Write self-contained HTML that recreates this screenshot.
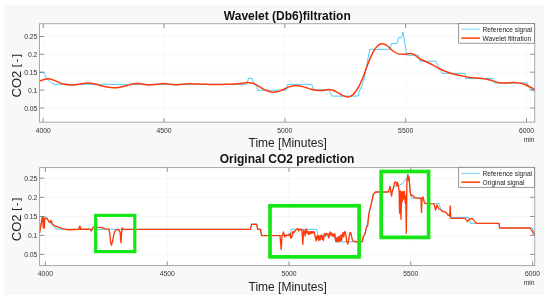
<!DOCTYPE html>
<html lang="en"><head><meta charset="utf-8"><title>CO2 wavelet filtration</title>
<style>html,body{margin:0;padding:0;background:#fff}body{width:550px;height:301px;overflow:hidden}</style></head>
<body>
<svg width="550" height="301" viewBox="0 0 550 301" font-family="Liberation Sans, Arial, sans-serif" style="display:block">
<rect x="0" y="0" width="550" height="301" fill="#ffffff"/>
<rect x="4.4" y="5" width="539.6" height="290" fill="#f8f8f8"/>
<rect x="39.6" y="23.8" width="495.20" height="98.30" fill="#ffffff"/>
<path d="M43.20,23.8V122.1M164.03,23.8V122.1M284.85,23.8V122.1M405.68,23.8V122.1M526.50,23.8V122.1M39.6,36.5H534.8M39.6,54.3H534.8M39.6,72.2H534.8M39.6,90.1H534.8M39.6,108.0H534.8" stroke="#f1f1f1" stroke-width="0.6" fill="none"/>
<clipPath id="c1"><rect x="39.6" y="23.8" width="495.20" height="98.30"/></clipPath>
<g clip-path="url(#c1)"><path d="M39.60,72.40L44.10,72.40L46.30,78.30L53.30,84.30L247.00,84.30L248.40,78.30L252.00,78.30L253.20,81.80L256.90,86.60L257.80,90.30L286.20,90.20L287.70,84.30L311.80,84.30L313.70,89.80L329.10,89.80L331.90,96.10L358.00,96.10L359.30,91.60L363.90,80.00L369.80,49.30L390.30,49.30L391.20,43.60L397.00,43.60L398.50,37.80L401.20,37.80L403.10,32.30L406.70,55.20L418.60,55.20L419.90,61.20L436.00,61.20L438.00,66.00L441.00,70.00L442.00,73.40L465.00,73.40L465.80,78.60L493.00,78.60L494.40,83.00L527.00,83.00L530.00,89.40L534.80,90.50" fill="none" stroke="#3cc4f4" stroke-width="0.9" stroke-linejoin="round"/>
<path d="M39.60,81.00C40.33,80.75 42.48,79.87 44.00,79.50C45.52,79.13 46.87,78.62 48.70,78.80C50.53,78.98 52.72,79.77 55.00,80.60C57.28,81.43 59.63,83.07 62.40,83.80C65.17,84.53 68.67,84.97 71.60,85.00C74.53,85.03 77.27,84.33 80.00,84.00C82.73,83.67 85.50,83.00 88.00,83.00C90.50,83.00 92.87,83.57 95.00,84.00C97.13,84.43 98.80,85.10 100.80,85.60C102.80,86.10 104.87,86.63 107.00,87.00C109.13,87.37 111.43,87.77 113.60,87.80C115.77,87.83 117.77,87.58 120.00,87.20C122.23,86.82 124.83,86.03 127.00,85.50C129.17,84.97 131.28,84.35 133.00,84.00C134.72,83.65 135.63,83.37 137.30,83.40C138.97,83.43 140.88,83.93 143.00,84.20C145.12,84.47 147.67,85.00 150.00,85.00C152.33,85.00 154.70,84.43 157.00,84.20C159.30,83.97 161.63,83.60 163.80,83.60C165.97,83.60 168.02,84.02 170.00,84.20C171.98,84.38 173.53,84.70 175.70,84.70C177.87,84.70 180.57,84.35 183.00,84.20C185.43,84.05 187.80,83.82 190.30,83.80C192.80,83.78 195.25,84.02 198.00,84.10C200.75,84.18 204.13,84.23 206.80,84.30C209.47,84.37 211.57,84.47 214.00,84.50C216.43,84.53 219.07,84.53 221.40,84.50C223.73,84.47 225.57,84.38 228.00,84.30C230.43,84.22 233.67,84.18 236.00,84.00C238.33,83.82 240.17,83.43 242.00,83.20C243.83,82.97 245.27,82.58 247.00,82.60C248.73,82.62 250.73,82.85 252.40,83.30C254.07,83.75 255.47,84.50 257.00,85.30C258.53,86.10 259.93,87.18 261.60,88.10C263.27,89.02 265.18,90.12 267.00,90.80C268.82,91.48 270.83,92.03 272.50,92.20C274.17,92.37 275.47,92.13 277.00,91.80C278.53,91.47 280.28,90.75 281.70,90.20C283.12,89.65 284.28,89.05 285.50,88.50C286.72,87.95 287.83,87.32 289.00,86.90C290.17,86.48 291.28,86.22 292.50,86.00C293.72,85.78 294.88,85.57 296.30,85.60C297.72,85.63 299.48,85.90 301.00,86.20C302.52,86.50 303.73,86.90 305.40,87.40C307.07,87.90 309.17,88.72 311.00,89.20C312.83,89.68 314.73,90.07 316.40,90.30C318.07,90.53 319.57,90.62 321.00,90.60C322.43,90.58 323.65,90.40 325.00,90.20C326.35,90.00 327.77,89.38 329.10,89.40C330.43,89.42 331.47,89.72 333.00,90.30C334.53,90.88 336.63,92.02 338.30,92.90C339.97,93.78 341.48,94.93 343.00,95.60C344.52,96.27 346.07,96.80 347.40,96.90C348.73,97.00 349.93,96.72 351.00,96.20C352.07,95.68 352.57,95.27 353.80,93.80C355.03,92.33 356.87,90.15 358.40,87.40C359.93,84.65 361.50,81.00 363.00,77.30C364.50,73.60 365.75,69.35 367.40,65.20C369.05,61.05 371.22,55.60 372.90,52.40C374.58,49.20 375.92,47.43 377.50,46.00C379.08,44.57 380.73,43.80 382.40,43.80C384.07,43.80 385.73,44.80 387.50,46.00C389.27,47.20 391.17,49.68 393.00,51.00C394.83,52.32 396.67,53.35 398.50,53.90C400.33,54.45 402.02,54.37 404.00,54.30C405.98,54.23 408.57,53.35 410.40,53.50C412.23,53.65 413.33,54.25 415.00,55.20C416.67,56.15 418.27,57.98 420.40,59.20C422.53,60.42 425.53,61.43 427.80,62.50C430.07,63.57 431.97,64.52 434.00,65.60C436.03,66.68 437.33,67.77 440.00,69.00C442.67,70.23 446.67,71.93 450.00,73.00C453.33,74.07 456.67,74.67 460.00,75.40C463.33,76.13 466.33,76.90 470.00,77.40C473.67,77.90 478.67,77.97 482.00,78.40C485.33,78.83 487.33,79.33 490.00,80.00C492.67,80.67 495.33,81.90 498.00,82.40C500.67,82.90 503.33,83.00 506.00,83.00C508.67,83.00 511.33,82.30 514.00,82.40C516.67,82.50 519.67,83.00 522.00,83.60C524.33,84.20 525.87,85.03 528.00,86.00C530.13,86.97 533.67,88.83 534.80,89.40" fill="none" stroke="#ff3a0a" stroke-width="1.5" stroke-linejoin="round" stroke-linecap="round"/></g>
<path d="M43.20,23.8v4.2M43.20,122.1v-4.2M164.03,23.8v4.2M164.03,122.1v-4.2M284.85,23.8v4.2M284.85,122.1v-4.2M405.68,23.8v4.2M405.68,122.1v-4.2M526.50,23.8v4.2M526.50,122.1v-4.2M39.6,36.5h4.6M534.8,36.5h-4.6M39.6,54.3h4.6M534.8,54.3h-4.6M39.6,72.2h4.6M534.8,72.2h-4.6M39.6,90.1h4.6M534.8,90.1h-4.6M39.6,108.0h4.6M534.8,108.0h-4.6" stroke="#5a5a5a" stroke-width="0.65" fill="none"/>
<rect x="39.6" y="23.8" width="495.20" height="98.30" fill="none" stroke="#858585" stroke-width="0.7"/>
<text x="43.20" y="132.6" font-size="6.8" fill="#333" text-anchor="middle">4000</text>
<text x="164.03" y="132.6" font-size="6.8" fill="#333" text-anchor="middle">4500</text>
<text x="284.85" y="132.6" font-size="6.8" fill="#333" text-anchor="middle">5000</text>
<text x="405.68" y="132.6" font-size="6.8" fill="#333" text-anchor="middle">5500</text>
<text x="526.50" y="132.6" font-size="6.8" fill="#333" text-anchor="middle">6000</text>
<text x="37.4" y="39.00" font-size="6.8" fill="#333" text-anchor="end">0.25</text>
<text x="37.4" y="56.80" font-size="6.8" fill="#333" text-anchor="end">0.2</text>
<text x="37.4" y="74.70" font-size="6.8" fill="#333" text-anchor="end">0.15</text>
<text x="37.4" y="92.60" font-size="6.8" fill="#333" text-anchor="end">0.1</text>
<text x="37.4" y="110.50" font-size="6.8" fill="#333" text-anchor="end">0.05</text>
<text x="534.6" y="141.6" font-size="6.8" fill="#333" text-anchor="end">min</text>
<rect x="39.7" y="167.7" width="495.10" height="98.00" fill="#ffffff"/>
<path d="M45.40,167.7V265.7M167.20,167.7V265.7M289.00,167.7V265.7M410.80,167.7V265.7M532.60,167.7V265.7M39.7,178.2H534.8M39.7,197.3H534.8M39.7,216.5H534.8M39.7,235.4H534.8M39.7,254.4H534.8" stroke="#f1f1f1" stroke-width="0.6" fill="none"/>
<clipPath id="c2"><rect x="39.7" y="167.7" width="495.10" height="98.00"/></clipPath>
<g clip-path="url(#c2)"><path d="M39.70,232.40L40.80,225.00L42.00,216.80L46.20,216.80L49.40,222.60L52.40,224.60L55.70,228.80L58.00,229.10L66.00,229.30L250.40,229.30L251.50,223.90L256.90,223.90L258.00,229.30L260.50,229.30L261.60,235.50L290.00,235.50L291.20,229.30L316.80,229.30L317.70,236.00L334.80,236.00L335.70,241.80L362.50,241.80L364.00,236.00L366.50,228.00L370.00,209.00L373.30,194.30L375.50,192.00L392.40,192.00L393.60,186.30L399.00,186.30L399.70,185.10L403.20,182.80L405.50,179.30L406.70,179.30L407.80,174.30L409.30,178.00L410.60,196.00L412.50,198.60L414.50,198.20L423.50,198.00L424.50,203.40L439.00,203.60L441.00,210.00L446.00,212.00L450.00,217.40L469.00,217.40L470.50,223.40L499.00,223.40L499.80,228.00L532.30,228.00L534.00,232.00L534.80,234.40" fill="none" stroke="#3cc4f4" stroke-width="0.9" stroke-linejoin="round"/>
<path d="M39.62,232.67L40.61,226.64L41.48,222.25L42.36,217.87L42.80,217.32L43.24,227.74L43.68,217.87L44.22,228.29L44.77,218.96L45.65,218.09L46.96,218.42L48.06,220.06L49.16,222.04L50.04,222.47L50.80,220.61L51.35,220.94L51.90,222.80L53.00,224.67L54.64,225.76L56.83,226.64L60.12,227.96L64.51,229.05L68.89,229.71L73.28,229.49L78.98,229.27L79.42,226.42L80.08,226.42L80.52,229.27L90.28,229.27L91.37,231.03L92.47,228.29L93.57,226.86L103.30,227.90L105.10,228.80L108.80,229.10L109.70,232.40L110.60,242.50L111.50,245.20L112.40,241.60L114.30,232.40L116.10,229.70L118.80,229.50L120.10,232.40L121.00,242.80L121.60,232.40L122.10,227.90L123.40,229.30L250.40,229.40L251.60,224.30L256.60,224.30L257.70,229.40L260.50,229.40L261.60,235.50L263.00,235.60L279.30,235.60L279.97,235.45L280.57,241.92L281.16,249.39L281.66,241.92L281.96,235.94L282.76,234.45L283.45,231.96L284.15,234.95L284.75,236.94L285.45,234.95L286.14,235.94L286.94,234.95L287.94,235.45L288.93,234.45L289.93,233.45L290.53,236.94L290.92,238.43L291.52,235.94L291.92,236.94L292.42,231.96L293.12,233.45L293.91,231.46L294.71,231.96L295.41,230.47L296.40,229.47L297.40,228.77L298.10,228.97L298.89,230.96L299.69,229.47L300.69,229.17L301.38,230.47L301.88,229.47L302.38,235.94L302.88,244.41L303.37,233.95L303.87,229.97L304.57,231.96L305.17,235.94L305.67,231.96L306.36,228.97L307.06,232.96L307.66,231.46L308.35,234.45L309.05,231.96L309.85,233.95L310.65,231.46L311.34,233.45L312.04,231.46L312.84,232.96L313.63,231.96L314.00,231.46L314.80,234.95L315.49,238.43L316.19,240.92L316.79,235.94L317.49,238.93L318.18,235.45L318.78,240.43L319.48,236.44L320.18,239.93L320.77,235.94L321.47,234.95L322.17,239.43L322.76,235.94L323.46,240.43L323.96,234.95L324.76,233.45L325.45,235.94L326.15,233.45L326.95,234.45L327.94,233.95L328.74,237.94L329.44,234.45L330.14,231.96L330.93,234.95L331.73,232.96L332.43,235.94L333.42,233.95L334.22,236.94L334.92,233.95L335.41,239.43L336.11,241.92L336.71,237.94L337.41,241.42L338.10,236.94L338.90,241.92L339.60,236.44L340.20,240.92L340.89,234.95L341.59,240.43L342.39,234.45L343.08,232.46L343.68,236.94L344.38,232.96L345.08,231.46L345.87,234.95L346.67,240.92L347.37,243.41L347.86,243.91L348.56,240.92L349.36,234.95L350.06,232.46L350.85,232.96L351.65,236.94L352.35,239.93L353.34,241.12L354.84,241.62L356.83,241.72L358.60,242.00L362.20,241.70L363.10,236.60L365.00,233.80L366.40,227.40L367.70,225.60L369.00,212.80L370.40,207.30L371.80,201.60L373.30,194.30L375.50,192.00L387.50,192.00L388.07,192.09L389.23,189.19L390.05,186.28L390.74,190.93L391.56,196.16L392.37,190.93L393.30,188.60L394.23,183.95L395.28,181.63L396.21,182.79L396.79,185.70L397.60,182.56L398.53,187.44L399.12,190.93L399.60,213.30L400.30,191.00L401.00,219.30L401.70,192.00L402.30,201.40L402.95,191.50L403.80,199.00L404.40,191.50L405.30,203.00L405.80,196.00L406.30,233.20L406.90,182.00L407.80,174.90L408.40,180.50L409.00,177.00L409.60,185.00L410.20,192.10L411.00,195.00L413.00,195.80L414.80,197.70L417.70,198.10L421.00,198.50L421.50,212.60L422.00,198.20L423.00,197.00L423.80,200.20L424.70,203.10L427.00,203.70L434.00,203.80L435.60,210.00L437.00,205.00L439.00,209.00L441.00,210.00L443.00,211.60L446.00,212.40L448.00,215.00L449.60,215.60L450.20,206.00L450.80,218.00L452.00,218.40L465.00,218.40L466.60,220.40L467.60,221.60L469.00,219.60L471.00,218.40L473.00,219.00L475.00,222.00L477.00,223.40L499.00,223.40L499.60,228.00L530.00,228.00L532.00,231.00L533.60,233.60L534.80,234.40" fill="none" stroke="#ff3a0a" stroke-width="1.35" stroke-linejoin="round" stroke-linecap="round"/></g>
<path d="M45.40,167.7v4.2M45.40,265.7v-4.2M167.20,167.7v4.2M167.20,265.7v-4.2M289.00,167.7v4.2M289.00,265.7v-4.2M410.80,167.7v4.2M410.80,265.7v-4.2M532.60,167.7v4.2M532.60,265.7v-4.2M39.7,178.2h4.6M534.8,178.2h-4.6M39.7,197.3h4.6M534.8,197.3h-4.6M39.7,216.5h4.6M534.8,216.5h-4.6M39.7,235.4h4.6M534.8,235.4h-4.6M39.7,254.4h4.6M534.8,254.4h-4.6" stroke="#5a5a5a" stroke-width="0.65" fill="none"/>
<rect x="39.7" y="167.7" width="495.10" height="98.00" fill="none" stroke="#858585" stroke-width="0.7"/>
<text x="45.40" y="275.9" font-size="6.8" fill="#333" text-anchor="middle">4000</text>
<text x="167.20" y="275.9" font-size="6.8" fill="#333" text-anchor="middle">4500</text>
<text x="289.00" y="275.9" font-size="6.8" fill="#333" text-anchor="middle">5000</text>
<text x="410.80" y="275.9" font-size="6.8" fill="#333" text-anchor="middle">5500</text>
<text x="532.60" y="275.9" font-size="6.8" fill="#333" text-anchor="middle">6000</text>
<text x="37.4" y="180.70" font-size="6.8" fill="#333" text-anchor="end">0.25</text>
<text x="37.4" y="199.80" font-size="6.8" fill="#333" text-anchor="end">0.2</text>
<text x="37.4" y="219.00" font-size="6.8" fill="#333" text-anchor="end">0.15</text>
<text x="37.4" y="237.90" font-size="6.8" fill="#333" text-anchor="end">0.1</text>
<text x="37.4" y="256.90" font-size="6.8" fill="#333" text-anchor="end">0.05</text>
<text x="534.6" y="285.0" font-size="6.8" fill="#333" text-anchor="end">min</text>
<rect x="95.65" y="215.35" width="39.15" height="36.25" fill="none" stroke="#16e616" stroke-width="3.2"/>
<rect x="270.0" y="205.8" width="89.10" height="51.10" fill="none" stroke="#16e616" stroke-width="3.7"/>
<rect x="381.2" y="171.5" width="47.40" height="65.90" fill="none" stroke="#16e616" stroke-width="3.7"/>
<rect x="458.7" y="23.5" width="75.8" height="19.70" fill="#ffffff" stroke="#6f6f6f" stroke-width="0.7"/>
<path d="M461.3,29.2H480" stroke="#3cc4f4" stroke-width="0.75"/>
<path d="M461.3,38.1H480" stroke="#ff3a0a" stroke-width="1.5"/>
<text x="482.6" y="31.7" font-size="6.6" fill="#222">Reference signal</text>
<text x="482.6" y="40.5" font-size="6.6" fill="#222">Wavelet filtration</text>
<rect x="458.7" y="167.3" width="75.8" height="20.00" fill="#ffffff" stroke="#6f6f6f" stroke-width="0.7"/>
<path d="M461.3,173.3H480" stroke="#3cc4f4" stroke-width="0.75"/>
<path d="M461.3,182.2H480" stroke="#ff3a0a" stroke-width="1.5"/>
<text x="482.6" y="176.0" font-size="6.6" fill="#222">Reference signal</text>
<text x="482.6" y="184.6" font-size="6.6" fill="#222">Original signal</text>
<text x="287.3" y="20.4" font-size="12" font-weight="bold" fill="#111" text-anchor="middle">Wavelet (Db6)filtration</text>
<text x="287.0" y="163.0" font-size="12" font-weight="bold" fill="#111" text-anchor="middle">Original CO2 prediction</text>
<text x="287.7" y="147.0" font-size="12" fill="#222" text-anchor="middle">Time [Minutes]</text>
<text x="287.7" y="291.0" font-size="12" fill="#222" text-anchor="middle">Time [Minutes]</text>
<text transform="translate(21.4,97.5) rotate(-90)" font-size="13" fill="#222">CO2 <tspan font-size="11.6" dy="-1.6" letter-spacing="1.4">[-]</tspan></text>
<text transform="translate(21.3,241.2) rotate(-90)" font-size="13" fill="#222">CO2 <tspan font-size="11.6" dy="-1.6" letter-spacing="1.4">[-]</tspan></text>
</svg>
</body></html>
